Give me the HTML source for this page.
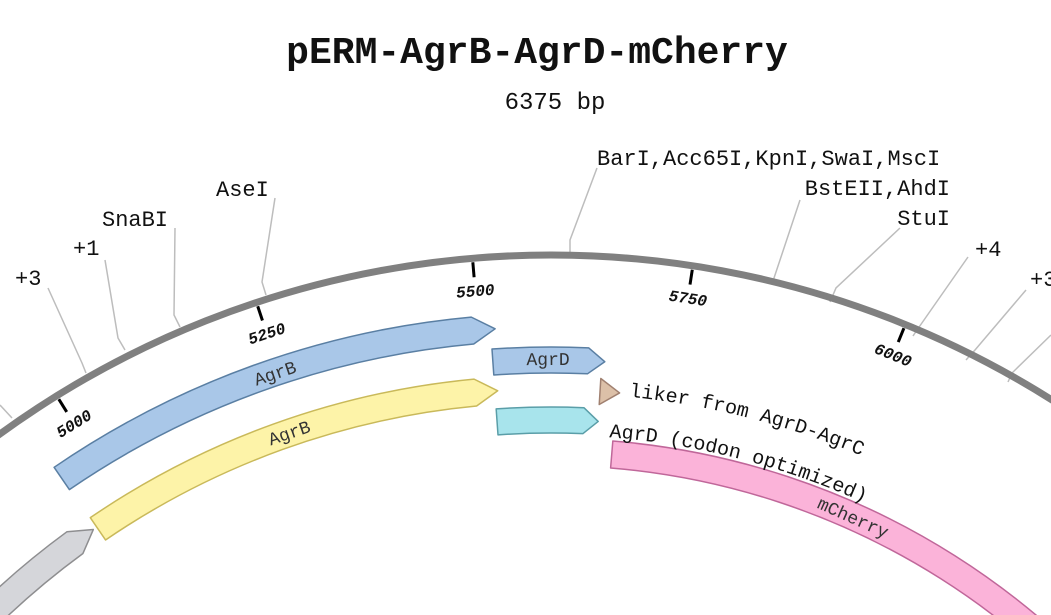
<!DOCTYPE html>
<html><head><meta charset="utf-8"><style>
html,body{margin:0;padding:0;background:#fff;width:1051px;height:615px;overflow:hidden}
svg{display:block;overflow:hidden}
text{font-family:"Liberation Mono","DejaVu Sans Mono",monospace;fill:#111}
.lbl{font-size:22px}
.tk{font-size:16px;font-weight:bold;font-style:italic}
.ft{font-size:18px;fill:#333}
</style></head><body>
<svg id="s" width="1051" height="615" viewBox="0 0 1051 615" xmlns="http://www.w3.org/2000/svg">
<text x="537" y="63" text-anchor="middle" style="font-size:38px;font-weight:bold">pERM-AgrB-AgrD-mCherry</text>
<text x="555" y="109" text-anchor="middle" style="font-size:24px">6375 bp</text>
<g fill="none" stroke="#bdbdbd" stroke-width="1.5">
<polyline points="48,288 82,363 86,373"/>
<polyline points="105,260 118,338 125,350"/>
<polyline points="175,228 174,315 180,327"/>
<polyline points="275,198 262,282 266,295"/>
<polyline points="0,405 12,418"/>
<polyline points="597,168 570,240 570,253"/>
<polyline points="800,200 772,284"/>
<polyline points="900,228 836,288 830,302"/>
<polyline points="968,257 917,330 913,336"/>
<polyline points="1026,290 975,350 966,360"/>
<polyline points="1051,335 1012,373 1008,382"/>
</g>
<text class="lbl" x="15" y="285">+3</text>
<text class="lbl" x="73" y="255">+1</text>
<text class="lbl" x="102" y="226">SnaBI</text>
<text class="lbl" x="216" y="196">AseI</text>
<text class="lbl" x="597" y="165">BarI,Acc65I,KpnI,SwaI,MscI</text>
<text class="lbl" x="950" y="195" text-anchor="end">BstEII,AhdI</text>
<text class="lbl" x="950" y="225" text-anchor="end">StuI</text>
<text class="lbl" x="975" y="256">+4</text>
<text class="lbl" x="1030" y="286">+3</text>
<circle cx="551" cy="1193" r="938" fill="none" stroke="#808080" stroke-width="7"/>
<g id="ticks"></g>
<g id="feat"></g>
<g transform="rotate(-31.8 551 1193)"><text class="tk" x="551" y="289" text-anchor="middle" dominant-baseline="central">5000</text></g>
<g transform="rotate(-18.3 551 1193)"><text class="tk" x="551" y="289" text-anchor="middle" dominant-baseline="central">5250</text></g>
<g transform="rotate(-4.8 551 1193)"><text class="tk" x="551" y="289" text-anchor="middle" dominant-baseline="central">5500</text></g>
<g transform="rotate(8.7 551 1193)"><text class="tk" x="551" y="289" text-anchor="middle" dominant-baseline="central">5750</text></g>
<g transform="rotate(22.2 551 1193)"><text class="tk" x="551" y="289" text-anchor="middle" dominant-baseline="central">6000</text></g>
<g transform="rotate(-18.6 551 1193)"><text class="ft" x="551" y="330" text-anchor="middle" dominant-baseline="central">AgrB</text></g>
<g transform="rotate(-19 551 1193)"><text class="ft" x="551" y="391" text-anchor="middle" dominant-baseline="central">AgrB</text></g>
<g transform="rotate(-0.2 551 1193)"><text class="ft" x="551" y="361" text-anchor="middle" dominant-baseline="central">AgrD</text></g>
<g transform="rotate(24.1 551 1193)"><text class="ft" x="551" y="455" text-anchor="middle" dominant-baseline="central">mCherry</text></g>
<path id="c1" fill="none" d=""/>
<path id="c2" fill="none" d=""/>
<text style="font-size:20px"><textPath href="#c1">liker from AgrD-AgrC</textPath></text>
<text style="font-size:20px"><textPath href="#c2">AgrD (codon optimized)</textPath></text>
</svg>
<script>
var CX=551,CY=1193;
function P(r,a){a*=Math.PI/180;return (CX+r*Math.sin(a)).toFixed(2)+","+(CY-r*Math.cos(a)).toFixed(2);}
function arc(r,a0,a1,sw){return "A"+r+","+r+" 0 0 "+sw+" "+P(r,a1);}
function arrow(r,w,a0,a1,h){
 var ro=r+w/2,ri=r-w/2,ae=a1-h;
 var d="M"+P(ro,a0)+arc(ro,a0,ae,1)+"L"+P(r,a1)+"L"+P(ri,ae)+arc(ri,ae,a0,0)+"Z";
 return d;}
var F=[
 [866,27,-34.4,-3.7,1.5,"#a9c7e8","#5a7fa3"],
 [833,26,-4.0,3.7,1.15,"#a9c7e8","#5a7fa3"],
 [804,27,-34.3,-3.8,1.6,"#fdf3a8","#c9b95a"],
 [773,26,-4.0,3.5,1.1,"#a8e4ec","#5a9ea8"],
 [741,27,4.7,60,0,"#fbb3d9","#c0679a"],
 [806,27,-70,-34.6,1.6,"#d5d6da","#8e8e90"],
 [803,26,3.5,4.9,1.4,"#dcc0a8","#a08070"]
];
var g=document.getElementById("feat"),s="";
F.forEach(function(f){s+='<path d="'+arrow(f[0],f[1],f[2],f[3],f[4])+'" fill="'+f[5]+'" stroke="'+f[6]+'" stroke-width="1.5" stroke-linejoin="round"/>';});
g.innerHTML=s;
var t="";[-31.8,-18.3,-4.8,8.7,22.2].forEach(function(a){var p=P(919,a).split(","),q=P(934,a).split(",");t+='<line x1="'+p[0]+'" y1="'+p[1]+'" x2="'+q[0]+'" y2="'+q[1]+'" stroke="#000" stroke-width="3"/>';});
document.getElementById("ticks").innerHTML=t;
document.getElementById("c1").setAttribute("d","M"+P(800,5.6)+arc(800,5.6,45,1));
document.getElementById("c2").setAttribute("d","M"+P(758,4.4)+arc(758,4.4,45,1));
</script>
</body></html>
